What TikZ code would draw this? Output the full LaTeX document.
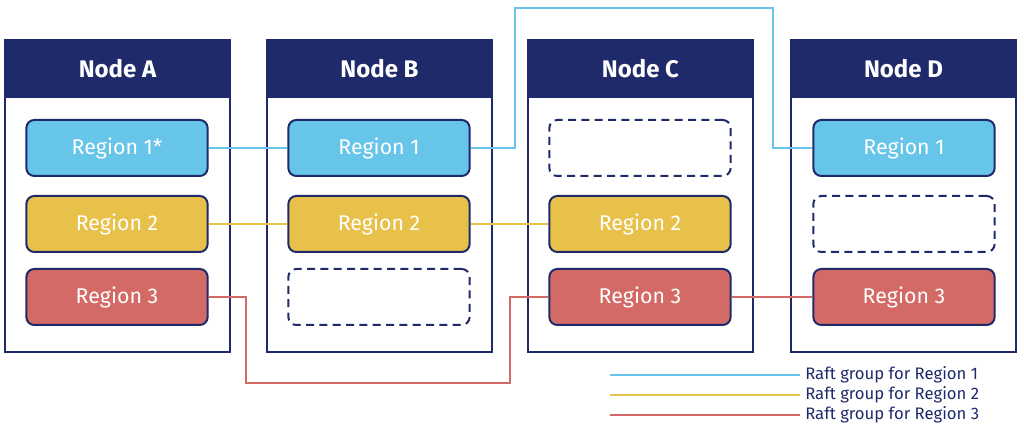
\documentclass[tikz,border=0pt]{standalone}
\usepackage{fontspec}
\setmainfont{Fira Sans}
\begin{document}
\definecolor{navy}{HTML}{1F2A6B}
\definecolor{rblue}{HTML}{66C5E8}
\definecolor{ryel}{HTML}{E8C14A}
\definecolor{rred}{HTML}{D46A65}
\begin{tikzpicture}[x=0.75pt,y=-0.75pt,
  box/.style={draw=navy,line width=1.5pt,fill=white},
  reg/.style={draw=navy,line width=1.5pt,rounded corners=6pt,minimum width=136pt,minimum height=42pt,text=white,font=\fontsize{16}{19}\selectfont},
  empty/.style={draw=navy,line width=1.5pt,dashed,dash pattern=on 6pt off 4pt,rounded corners=6pt,minimum width=136pt,minimum height=42pt},
  lnk/.style={line width=1.3pt},
  leg/.style={anchor=west,font=\fontsize{12.5}{15}\selectfont,text=navy}]
\useasboundingbox (0,0) rectangle (1024,434);
% node boxes
\foreach \n/\x/\t in {A/5/Node A,B/267/Node B,C/528/Node C,D/791/Node D}{
  \draw[box] (\x,40) rectangle (\x+225,352);
  \fill[navy] (\x,40) rectangle (\x+225,98);
  \node[text=white,font=\bfseries\fontsize{18}{21}\selectfont] (h\n) at (\x+112.5,69) {\t};
}
% regions
\node[reg,fill=rblue] (a1) at (117,148) {Region 1*};
\node[reg,fill=ryel] (a2) at (117,224) {Region 2};
\node[reg,fill=rred] (a3) at (117,297) {Region 3};
\node[reg,fill=rblue] (b1) at (379,148) {Region 1};
\node[reg,fill=ryel] (b2) at (379,224) {Region 2};
\node[empty] (b3) at (379,297) {};
\node[empty] (c1) at (640,148) {};
\node[reg,fill=ryel] (c2) at (640,224) {Region 2};
\node[reg,fill=rred] (c3) at (640,297) {Region 3};
\node[reg,fill=rblue] (d1) at (904,148) {Region 1};
\node[empty] (d2) at (904,224) {};
\node[reg,fill=rred] (d3) at (904,297) {Region 3};
% links
\draw[lnk,rblue] (a1.east) -- (b1.west);
\draw[lnk,rblue] (b1.east) -- (515,148) -- (515,8) -- (773,8) -- (773,148) -- (d1.west);
\draw[lnk,ryel] (a2.east) -- (b2.west);
\draw[lnk,ryel] (b2.east) -- (c2.west);
\draw[lnk,rred] (a3.east) -- (246,297) -- (246,383) -- (510,383) -- (510,297) -- (c3.west);
\draw[lnk,rred] (c3.east) -- (d3.west);
% legend
\coordinate (l1) at (610,375); \coordinate (l2) at (610,395); \coordinate (l3) at (610,415);
\draw[lnk,rblue] (l1) -- ++(190,0) node[leg] (t1) {Raft group for Region 1};
\draw[lnk,ryel] (l2) -- ++(190,0) node[leg] (t2) {Raft group for Region 2};
\draw[lnk,rred] (l3) -- ++(190,0) node[leg] (t3) {Raft group for Region 3};
\end{tikzpicture}
\end{document}
